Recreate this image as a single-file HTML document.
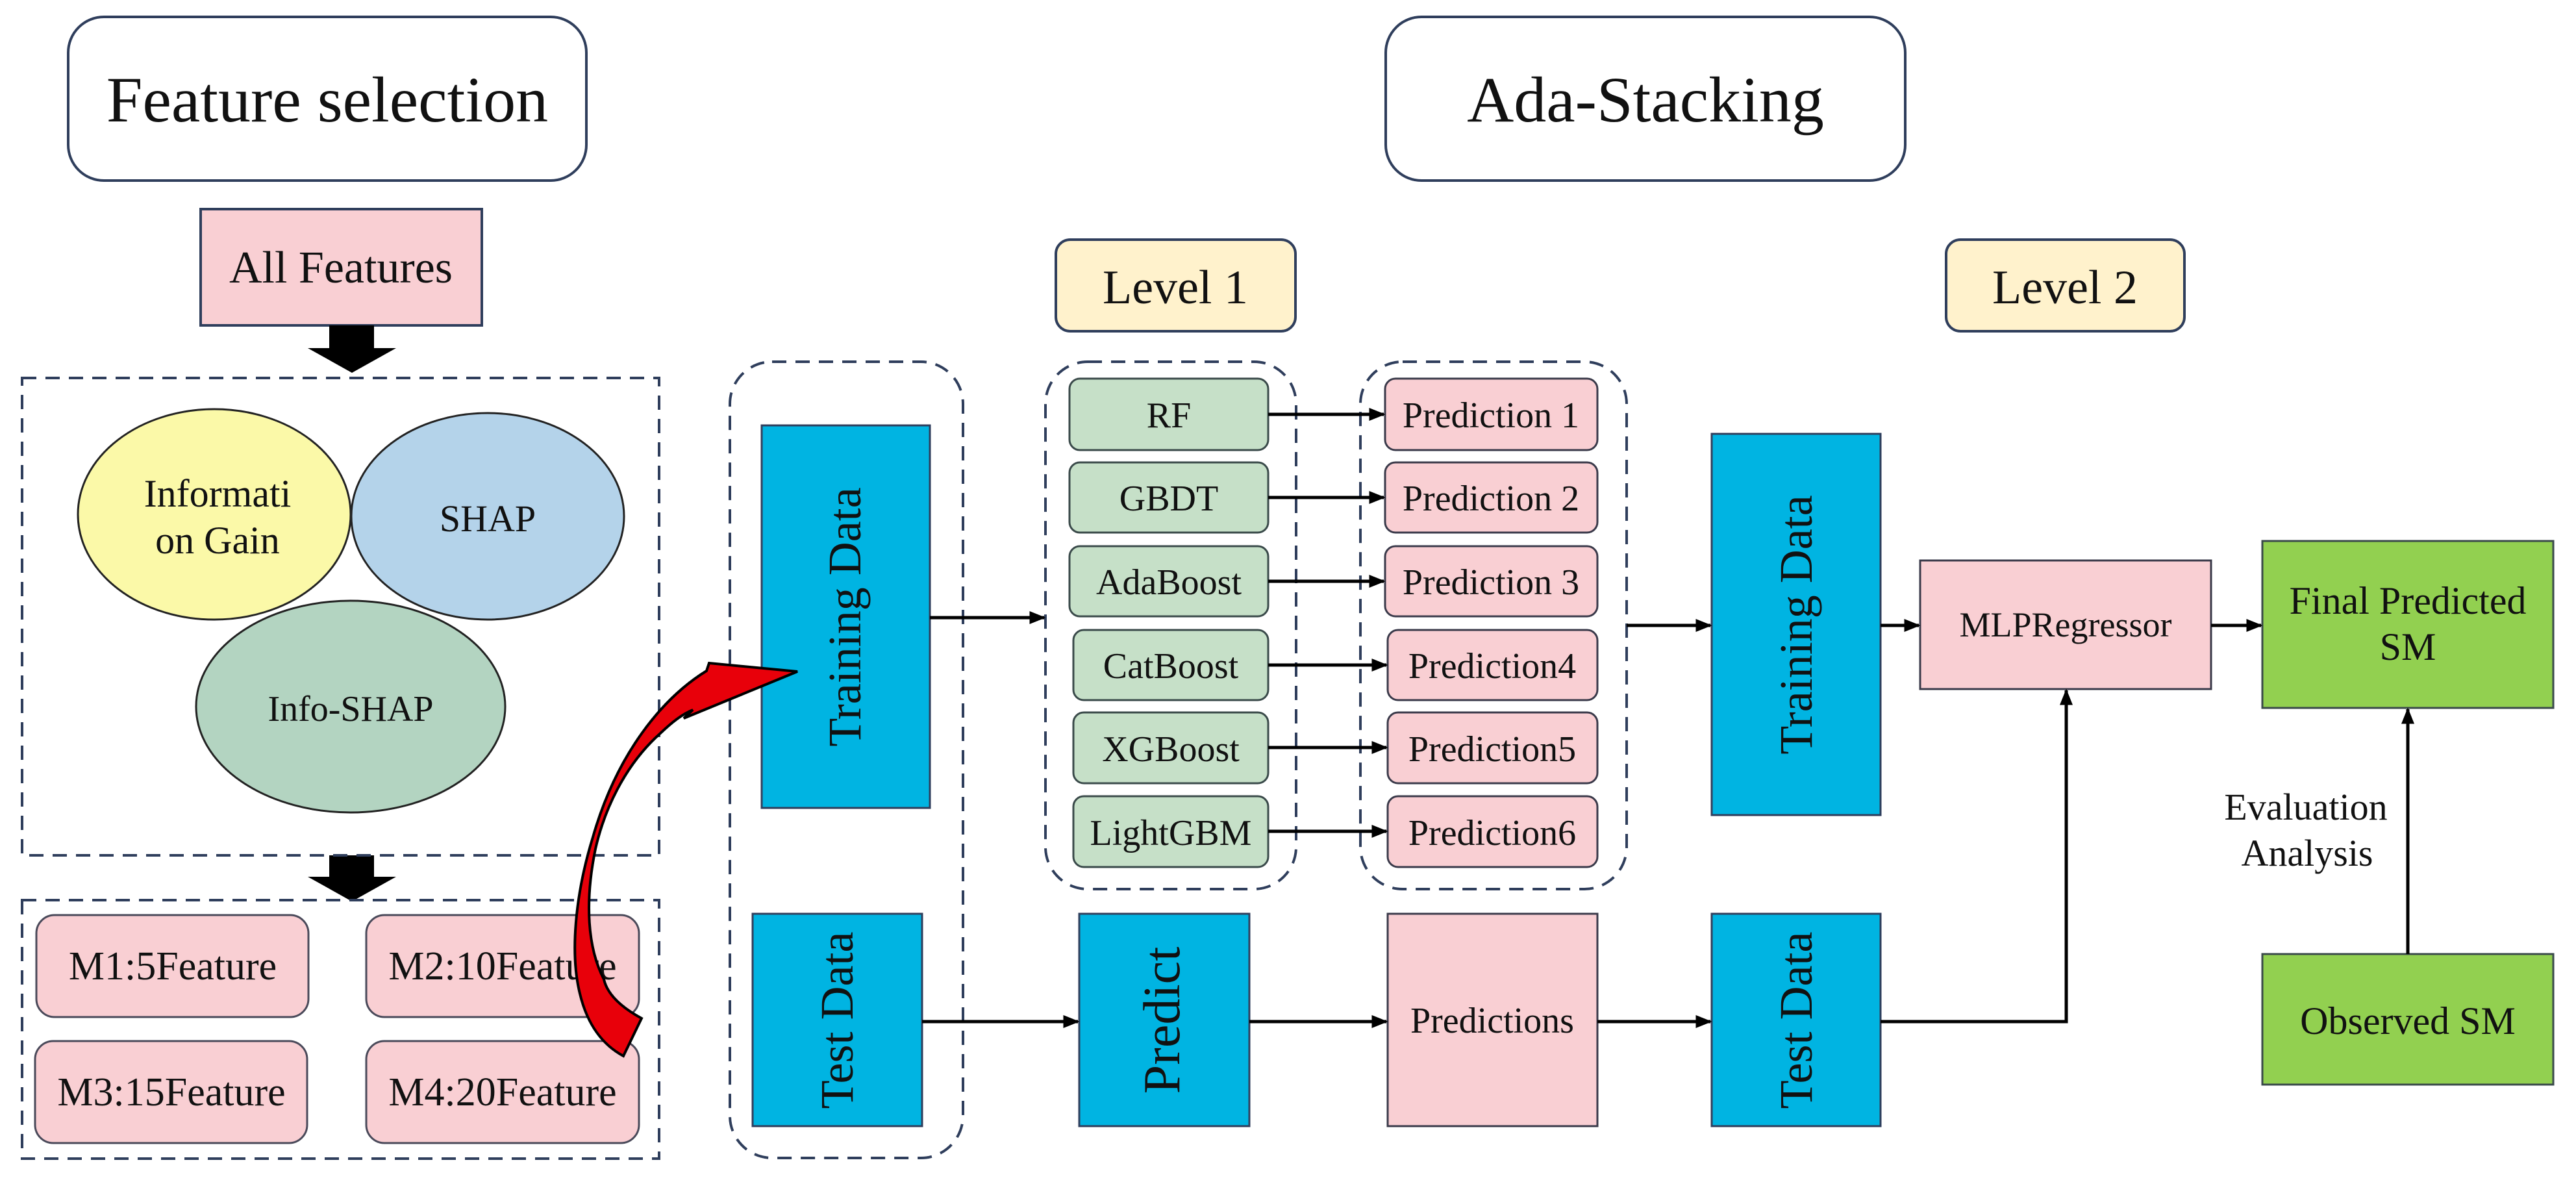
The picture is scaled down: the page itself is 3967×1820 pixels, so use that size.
<!DOCTYPE html>
<html><head><meta charset="utf-8"><style>html,body{margin:0;padding:0;background:#fff}svg{display:block}text{font-family:"Liberation Serif",serif;fill:#111}</style></head><body>
<svg width="3967" height="1820" viewBox="0 0 3967 1820" xmlns="http://www.w3.org/2000/svg">
<defs>
<marker id="ah" markerWidth="10" markerHeight="8" refX="9" refY="4" orient="auto" markerUnits="userSpaceOnUse" viewBox="0 0 10 8"><path d="M0,0 L10,4 L0,8 z" fill="#000"/></marker>
<marker id="ah2" viewBox="0 0 10 8" markerWidth="26" markerHeight="20" refX="9" refY="4" orient="auto" markerUnits="userSpaceOnUse"><path d="M0,0 L10,4 L0,8 z" fill="#000"/></marker>
</defs>
<g stroke="#2f3e5c" stroke-width="4">
<rect x="105" y="26" width="798" height="252" rx="55" fill="#fff"/>
<rect x="2134" y="26" width="800" height="252" rx="55" fill="#fff"/>
<rect x="309" y="322" width="433" height="179" fill="#f9cfd3"/>
<rect x="1626" y="369" width="369" height="141" rx="22" fill="#fff2cc"/>
<rect x="2997" y="369" width="367" height="141" rx="22" fill="#fff2cc"/>
</g>
<text x="504" y="187" font-size="100" text-anchor="middle">Feature selection</text>
<text x="2534" y="187" font-size="100" text-anchor="middle">Ada-Stacking</text>
<text x="525" y="435" font-size="70" text-anchor="middle">All Features</text>
<text x="1810" y="467" font-size="74" text-anchor="middle">Level  1</text>
<text x="3180" y="467" font-size="74" text-anchor="middle">Level  2</text>
<!-- block arrows -->
<path d="M507,501 H576 V536 H610 L542,574 L474,536 H507 Z" fill="#000"/>
<path d="M507,1317 H576 V1350 H610 L542,1388 L474,1350 H507 Z" fill="#000"/>
<!-- dashed containers -->
<g fill="none" stroke="#2f3e5c" stroke-width="4" stroke-dasharray="22,14">
<rect x="34" y="582" width="981" height="735"/>
<rect x="34" y="1386" width="981" height="398"/>
<rect x="1124" y="557" width="359" height="1226" rx="65"/>
<rect x="1610" y="557" width="386" height="812" rx="65"/>
<rect x="2095" y="557" width="410" height="812" rx="65"/>
</g>
<!-- ellipses -->
<g stroke="#222" stroke-width="3">
<ellipse cx="330" cy="792" rx="210" ry="162" fill="#fbf9a8"/>
<ellipse cx="751" cy="795" rx="210" ry="159" fill="#b4d3ea"/>
<ellipse cx="540" cy="1088" rx="238" ry="163" fill="#b3d4c1"/>
</g>
<text x="335" y="780" font-size="60" text-anchor="middle">Informati</text>
<text x="335" y="852" font-size="60" text-anchor="middle">on Gain</text>
<text x="751" y="818" font-size="58" text-anchor="middle">SHAP</text>
<text x="540" y="1110" font-size="56" text-anchor="middle">Info-SHAP</text>
<!-- M boxes -->
<g stroke="#4a4a5a" stroke-width="3" fill="#f9cfd3">
<rect x="56" y="1409" width="419" height="157" rx="28"/>
<rect x="564" y="1409" width="420" height="157" rx="28"/>
<rect x="54" y="1603" width="419" height="157" rx="28"/>
<rect x="564" y="1603" width="420" height="157" rx="28"/>
</g>
<g font-size="62" text-anchor="middle">
<text x="266" y="1508">M1:5Feature</text>
<text x="774" y="1508">M2:10Feature</text>
<text x="264" y="1702">M3:15Feature</text>
<text x="774" y="1702">M4:20Feature</text>
</g>
<!-- cyan boxes -->
<g stroke="#2f3e5c" stroke-width="3" fill="#00b4e2">
<rect x="1173" y="655" width="259" height="589"/>
<rect x="1159" y="1407" width="261" height="327"/>
<rect x="1662" y="1407" width="262" height="327"/>
<rect x="2636" y="668" width="260" height="587"/>
<rect x="2636" y="1407" width="260" height="327"/>
</g>
<g font-size="72" text-anchor="middle">
<text transform="translate(1325,950) rotate(-90)">Training Data</text>
<text transform="translate(1313,1571) rotate(-90)">Test Data</text>
<text transform="translate(1816,1571) rotate(-90)" font-size="80">Predict</text>
<text transform="translate(2790,962) rotate(-90)">Training Data</text>
<text transform="translate(2790,1571) rotate(-90)">Test Data</text>
</g>
<!-- model boxes -->
<g stroke="#3a4a4a" stroke-width="3" fill="#c6e0c8">
<rect x="1647" y="583" width="306" height="110" rx="16"/>
<rect x="1647" y="712" width="306" height="108" rx="16"/>
<rect x="1647" y="841" width="306" height="108" rx="16"/>
<rect x="1653" y="970" width="300" height="108" rx="16"/>
<rect x="1653" y="1097" width="300" height="109" rx="16"/>
<rect x="1653" y="1226" width="300" height="109" rx="16"/>
</g>
<g stroke="#3a3a4a" stroke-width="3" fill="#f9cfd3">
<rect x="2133" y="583" width="327" height="110" rx="16"/>
<rect x="2133" y="712" width="327" height="108" rx="16"/>
<rect x="2133" y="841" width="327" height="108" rx="16"/>
<rect x="2137" y="970" width="323" height="108" rx="16"/>
<rect x="2137" y="1097" width="323" height="109" rx="16"/>
<rect x="2137" y="1226" width="323" height="109" rx="16"/>
<rect x="2137" y="1407" width="323" height="327" rx="0"/>
<rect x="2957" y="863" width="448" height="198"/>
</g>
<g font-size="56" text-anchor="middle">
<text x="1800" y="658">RF</text>
<text x="1800" y="786">GBDT</text>
<text x="1800" y="915">AdaBoost</text>
<text x="1803" y="1044">CatBoost</text>
<text x="1803" y="1172">XGBoost</text>
<text x="1803" y="1301">LightGBM</text>
<text x="2296" y="658">Prediction 1</text>
<text x="2296" y="786">Prediction 2</text>
<text x="2296" y="915">Prediction 3</text>
<text x="2298" y="1044">Prediction4</text>
<text x="2298" y="1172">Prediction5</text>
<text x="2298" y="1301">Prediction6</text>
<text x="2298" y="1590">Predictions</text>
<text x="3181" y="980" font-size="54">MLPRegressor</text>
</g>
<!-- green -->
<g stroke="#3a4a4a" stroke-width="3" fill="#92d050">
<rect x="3484" y="833" width="448" height="257"/>
<rect x="3484" y="1469" width="448" height="201"/>
</g>
<g font-size="60" text-anchor="middle">
<text x="3708" y="945">Final Predicted</text>
<text x="3708" y="1016">SM</text>
<text x="3708" y="1592">Observed  SM</text>
<text x="3551" y="1262" font-size="58">Evaluation</text>
<text x="3553" y="1333" font-size="58">Analysis</text>
</g>
<!-- connectors -->
<g stroke="#000" stroke-width="5" fill="none" marker-end="url(#ah2)">
<line x1="1432" y1="951" x2="1608" y2="951"/>
<line x1="1420" y1="1573" x2="1660" y2="1573"/>
<line x1="1924" y1="1573" x2="2135" y2="1573"/>
<line x1="2460" y1="1573" x2="2634" y2="1573"/>
<line x1="2505" y1="963" x2="2634" y2="963"/>
<line x1="2896" y1="963" x2="2955" y2="963"/>
<line x1="3405" y1="963" x2="3482" y2="963"/>
<polyline points="2896,1573 3182,1573 3182,1063"/>
<line x1="3708" y1="1469" x2="3708" y2="1092"/>
<line x1="1953" y1="638" x2="2131" y2="638"/>
<line x1="1953" y1="766" x2="2131" y2="766"/>
<line x1="1953" y1="895" x2="2131" y2="895"/>
<line x1="1953" y1="1024" x2="2135" y2="1024"/>
<line x1="1953" y1="1151" x2="2135" y2="1151"/>
<line x1="1953" y1="1280" x2="2135" y2="1280"/>
</g>
<!-- red curved arrow -->
<path d="M1228,1034 L1092,1021 L1088,1033 C1020,1075 950,1160 913,1289 C885,1380 878,1470 893,1530 C905,1580 930,1610 960,1626 L988,1568 C955,1550 935,1530 930,1508 C905,1460 900,1390 917,1307 C930,1250 960,1180 1017,1129 C1035,1112 1050,1100 1067,1093 L1053,1106 Z" fill="#e8000a" stroke="#000" stroke-width="4" stroke-linejoin="miter"/>
</svg>
</body></html>
